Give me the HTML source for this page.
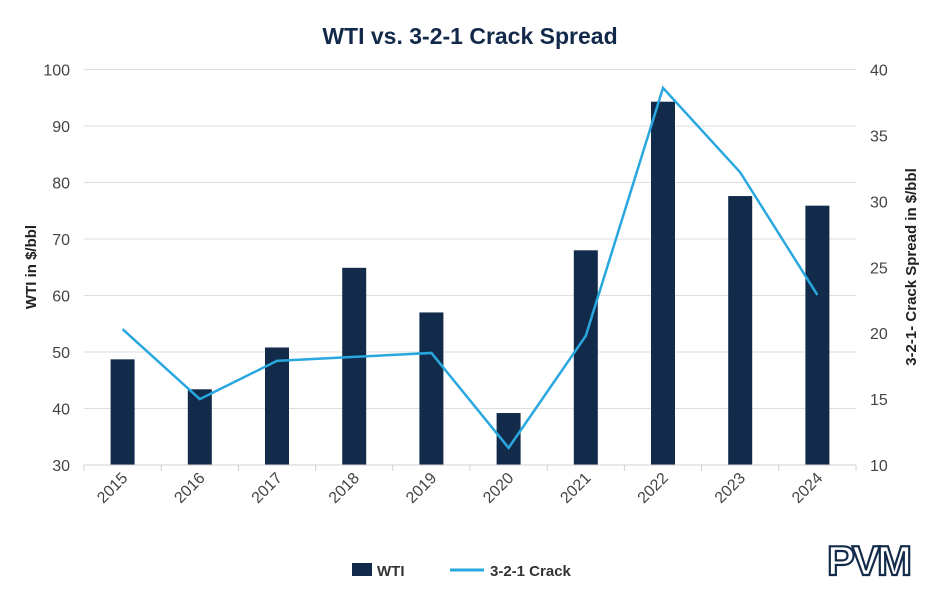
<!DOCTYPE html>
<html><head><meta charset="utf-8"><style>
body{margin:0;background:#fff;}
svg text{font-family:"Liberation Sans",Arial,sans-serif;}
</style></head><body>
<svg id="c" width="940" height="600" xmlns="http://www.w3.org/2000/svg">
<text x="470" y="44" text-anchor="middle" font-size="23" font-weight="bold" fill="#12294a">WTI vs. 3-2-1 Crack Spread</text>
<g id="grid"></g><g id="bars"></g><g id="line"></g><g id="axes"></g>
<text transform="translate(36,267) rotate(-90)" text-anchor="middle" font-size="15" font-weight="bold" fill="#222">WTI in $/bbl</text>
<text transform="translate(916,267) rotate(-90)" text-anchor="middle" font-size="15" font-weight="bold" fill="#222">3-2-1- Crack Spread in $/bbl</text>
<g>
<rect x="352" y="563" width="20" height="13" fill="#132b4a"/>
<text x="377" y="576" font-size="15" font-weight="bold" fill="#333">WTI</text>
<line x1="450" y1="570" x2="484" y2="570" stroke="#29a7df" stroke-width="3"/>
<text x="490" y="576" font-size="15" font-weight="bold" fill="#333">3-2-1 Crack</text>
</g>
<text x="868" y="575" text-anchor="middle" font-size="42" font-weight="900" fill="#fff" stroke="#132b4a" stroke-width="2.2" letter-spacing="-3">PVM</text>
</svg>
<script>
const years=["2015","2016","2017","2018","2019","2020","2021","2022","2023","2024"];
const wti=[48.7,43.4,50.8,64.9,57.0,39.2,68.0,94.3,77.6,75.9];
const crack=[20.3,15.0,17.9,18.2,18.5,11.3,19.8,38.6,32.2,22.9];
const leftTicks=[30,40,50,60,70,80,90,100];
const rightTicks=[10,15,20,25,30,35,40];
const NS="http://www.w3.org/2000/svg";
const L=84,R=856,T=69.5,B=465;
const band=(R-L)/years.length;
const x=i=>L+band*(i+0.5);
const yL=v=>B-(v-30)/70*(B-T);
const yR=v=>B-(v-10)/30*(B-T);
function mk(t,a,p){const e=document.createElementNS(NS,t);for(const k in a)e.setAttribute(k,a[k]);p.appendChild(e);return e;}
const g=document.getElementById('grid'),bars=document.getElementById('bars'),ln=document.getElementById('line'),ax=document.getElementById('axes');
leftTicks.forEach(v=>{
 if(v!==30){const l=mk('line',{x1:L,x2:R,y1:yL(v),y2:yL(v),stroke:'#dedede','stroke-width':1},g);
 
 }
 const t=mk('text',{x:L-14,y:yL(v)+6,'text-anchor':'end','font-size':16,fill:'#444'},ax);t.textContent=v;
 
 
});
rightTicks.forEach(v=>{
 const t=mk('text',{x:R+14,y:yR(v)+6,'font-size':16,fill:'#444'},ax);t.textContent=v;
 
 
});
const base=mk('line',{x1:L,x2:R,y1:B,y2:B,stroke:'#d0d0d0','stroke-width':1},ax);


for(let i=0;i<=years.length;i++){const tk=mk('line',{x1:L+band*i,x2:L+band*i,y1:B,y2:B+6,stroke:'#d0d0d0'},ax);
 
 }
years.forEach((yr,i)=>{
 const r=mk('rect',{x:x(i)-12,y:yL(wti[i]),width:24,height:B-yL(wti[i]),fill:'#132b4a'},bars);
 
 
 const t=mk('text',{transform:`translate(${x(i)+6},${B+14}) rotate(-45)`,'text-anchor':'end','font-size':16,fill:'#444'},ax);t.textContent=yr;
 
 
});
const p=mk('polyline',{points:crack.map((v,i)=>x(i)+','+yR(v)).join(' '),fill:'none',stroke:'#29a7df','stroke-width':2.5,'stroke-linejoin':'miter'},ln);


</script>
</body></html>
